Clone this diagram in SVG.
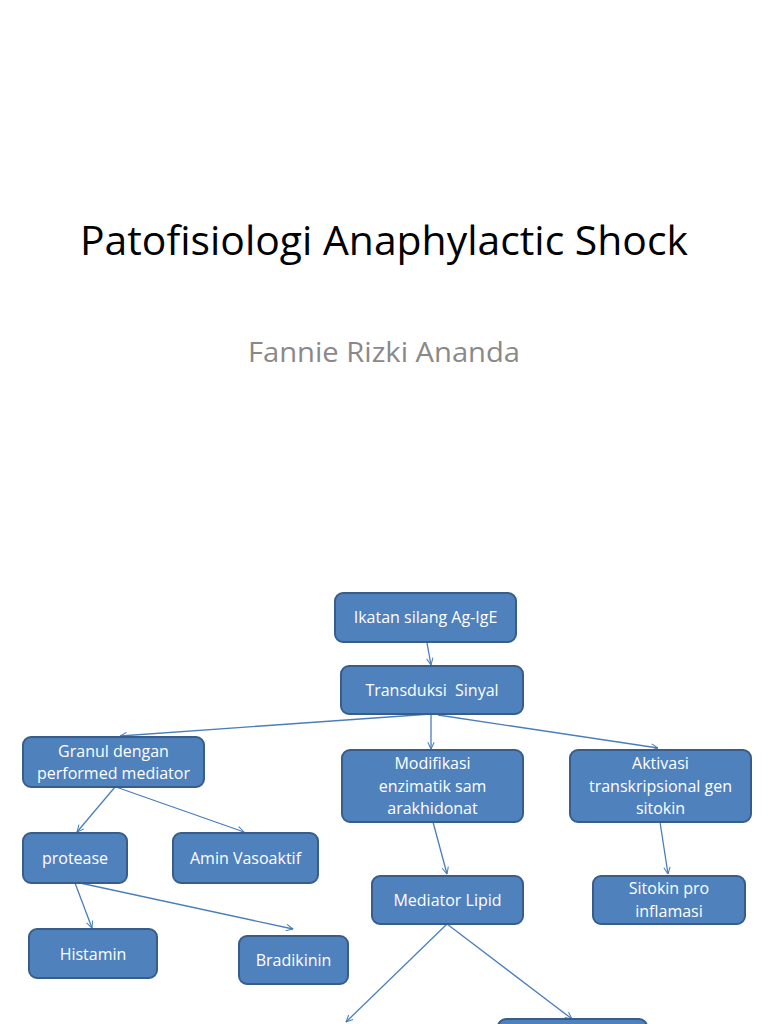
<svg xmlns="http://www.w3.org/2000/svg" width="768" height="1024" viewBox="0 0 768 1024">
<style>
.box{fill:#4f81bd;stroke:#385d8a;stroke-width:2}
.t{font-family:"Open Sans","Liberation Sans",sans-serif;font-size:16px;fill:#fff;text-anchor:middle}
.c{stroke:#4a7ebb;stroke-width:1.3;fill:none;marker-end:url(#ah)}
</style>
<defs>
<marker id="ah" viewBox="0 0 10 10" refX="9.5" refY="5" markerWidth="8" markerHeight="8" markerUnits="userSpaceOnUse" orient="auto">
<path d="M1,1 L9.5,5 L1,9" fill="none" stroke="#4a7ebb" stroke-width="1.3"/>
</marker>
</defs>
<rect width="768" height="1024" fill="#fff"/>
<text x="384" y="255" font-family="'Open Sans','Liberation Sans',sans-serif" font-size="40" fill="#000" text-anchor="middle" textLength="608" lengthAdjust="spacingAndGlyphs">Patofisiologi Anaphylactic Shock</text>
<text x="384" y="362" font-family="'Open Sans','Liberation Sans',sans-serif" font-size="27" fill="#898989" text-anchor="middle" textLength="272" lengthAdjust="spacingAndGlyphs">Fannie Rizki Ananda</text>
<g id="connectors">
<line class="c" x1="427" y1="643" x2="431" y2="665"/>
<line class="c" x1="431" y1="714" x2="120" y2="736"/>
<line class="c" x1="431" y1="714" x2="431" y2="749"/>
<line class="c" x1="438" y1="715" x2="658" y2="748"/>
<line class="c" x1="115" y1="787" x2="77" y2="832"/>
<line class="c" x1="116" y1="787" x2="244" y2="832"/>
<line class="c" x1="75" y1="883" x2="92" y2="928"/>
<line class="c" x1="80" y1="883" x2="293" y2="929"/>
<line class="c" x1="433" y1="822" x2="447" y2="874"/>
<line class="c" x1="660" y1="822" x2="668" y2="874"/>
<line class="c" x1="447" y1="924" x2="346" y2="1022"/>
<line class="c" x1="447" y1="924" x2="572" y2="1019"/>
</g>
<g id="n1"><rect class="box" x="335" y="593" width="181" height="49" rx="8"/><text class="t" x="425.5" y="623">Ikatan silang Ag-IgE</text></g>
<g id="n2"><rect class="box" x="341" y="666" width="182" height="48" rx="8"/><text class="t" x="432" y="696" style="white-space:pre">Transduksi  Sinyal</text></g>
<g id="n3"><rect class="box" x="23" y="737" width="181" height="50" rx="8"/><text class="t" x="113.5" y="757">Granul dengan</text><text class="t" x="113.5" y="779">performed mediator</text></g>
<g id="n4"><rect class="box" x="342" y="750" width="181" height="72" rx="8"/><text class="t" x="432.5" y="769">Modifikasi</text><text class="t" x="432.5" y="792">enzimatik sam</text><text class="t" x="432.5" y="814">arakhidonat</text></g>
<g id="n5"><rect class="box" x="570" y="750" width="181" height="72" rx="8"/><text class="t" x="660.5" y="769">Aktivasi</text><text class="t" x="660.5" y="792">transkripsional gen</text><text class="t" x="660.5" y="814">sitokin</text></g>
<g id="n6"><rect class="box" x="23" y="833" width="104" height="50" rx="8"/><text class="t" x="75" y="864">protease</text></g>
<g id="n7"><rect class="box" x="173" y="833" width="145" height="50" rx="8"/><text class="t" x="245.5" y="864">Amin Vasoaktif</text></g>
<g id="n8"><rect class="box" x="29" y="929" width="128" height="49" rx="8"/><text class="t" x="93" y="960">Histamin</text></g>
<g id="n9"><rect class="box" x="239" y="936" width="109" height="48" rx="8"/><text class="t" x="293.5" y="966">Bradikinin</text></g>
<g id="n10"><rect class="box" x="372" y="876" width="151" height="48" rx="8"/><text class="t" x="447.5" y="906">Mediator Lipid</text></g>
<g id="n11"><rect class="box" x="593" y="876" width="152" height="48" rx="8"/><text class="t" x="669" y="894">Sitokin pro</text><text class="t" x="669" y="917">inflamasi</text></g>
<g id="n12"><rect class="box" x="498" y="1019" width="149" height="30" rx="8"/></g>
</svg>
